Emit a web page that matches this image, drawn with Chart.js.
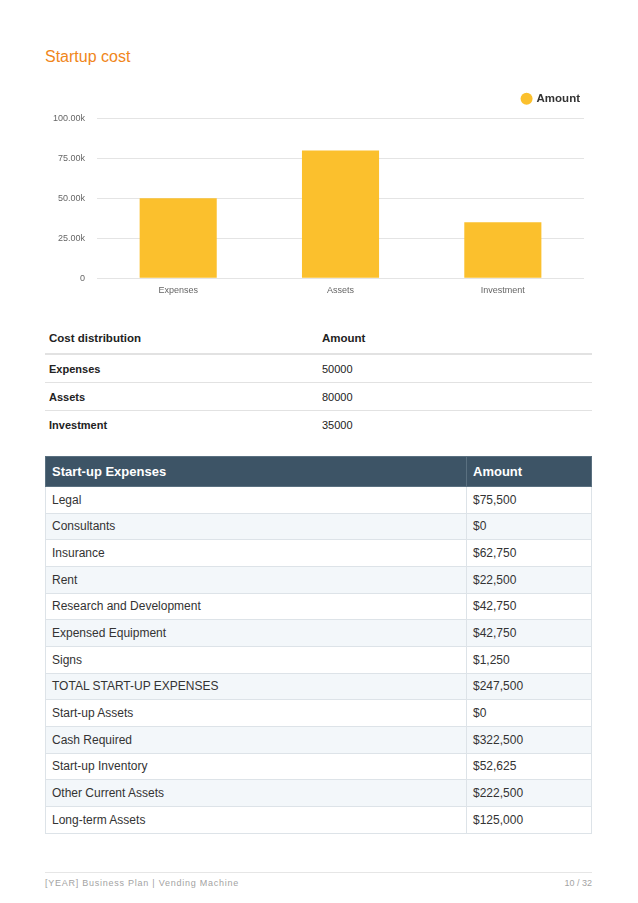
<!DOCTYPE html>
<html>
<head>
<meta charset="utf-8">
<script src="https://cdn.jsdelivr.net/npm/chart.js@4/dist/chart.umd.min.js"></script>
<style>
  body { margin: 0; width: 638px; height: 903px; background: #fff; font-family: "Liberation Sans", Arial, sans-serif; position: relative; overflow: hidden; }
  h1 { position: absolute; left: 45px; top: 48px; margin: 0; font-size: 16px; font-weight: normal; color: #f0861a; }
  #chartBox { position: absolute; left: 41px; top: 89px; width: 543px; height: 214px; }
  table { border-collapse: collapse; position: absolute; left: 45px; width: 547px; }
  #dist td { font-size: 11px; color: #222; padding: 0 4px; height: 27px; border-bottom: 1px solid #e2e2e2; }
  #dist tr:first-child td { font-weight: bold; font-size: 11.5px; border-bottom: 2px solid #e2e2e2; height: 30px; }
  #dist tr:last-child td { border-bottom: none; }
  #dist td.lbl { font-weight: bold; }
  #expenses td { font-size: 12px; color: #333; padding: 0 6px; height: 25.67px; border: 1px solid #dde3e8; }
  #expenses tr.hd td { background: #3d5466; color: #fff; font-weight: bold; font-size: 13px; height: 29px; border-color: #5a7080; }
  #expenses tr:nth-child(odd) td { background: #f3f7fa; }
  #expenses tr.hd td { background: #3d5466; }
  .foot { position: absolute; top: 872px; left: 45px; width: 547px; border-top: 1px solid #e6e6e6; padding-top: 5px; font-size: 9px; font-weight: normal; color: #a3a3a3; letter-spacing: 0.75px; }
  .foot span { float: right; letter-spacing: 0; }
</style>
</head>
<body>
<h1>Startup cost</h1>
<div id="chartBox"><canvas id="costChart"></canvas></div>
<table id="dist" style="top:323px"></table>
<table id="expenses" style="top:456px"></table>
<div class="foot">[YEAR] Business Plan | Vending Machine<span>10 / 32</span></div>

<script>
var categories = ['Expenses', 'Assets', 'Investment'];
var amounts = [50000, 80000, 35000];
var yTicks = [0, 25000, 50000, 75000, 100000];

var expenseItems = ['Legal', 'Consultants', 'Insurance', 'Rent', 'Research and Development',
  'Expensed Equipment', 'Signs', 'TOTAL START-UP EXPENSES', 'Start-up Assets', 'Cash Required',
  'Start-up Inventory', 'Other Current Assets', 'Long-term Assets'];
var expenseValues = ['$75,500', '$0', '$62,750', '$22,500', '$42,750', '$42,750', '$1,250',
  '$247,500', '$0', '$322,500', '$52,625', '$222,500', '$125,000'];

// small table under the chart
var dist = document.getElementById('dist');
var html = '<tr><td style="width:265px">Cost distribution</td><td>Amount</td></tr>';
for (var i = 0; i < categories.length; i++) {
  html += '<tr><td class="lbl">' + categories[i] + '</td><td>' + amounts[i] + '</td></tr>';
}
dist.innerHTML = html;

// start-up expenses table
var exp = document.getElementById('expenses');
html = '<tr class="hd"><td>Start-up Expenses</td><td style="width:112px">Amount</td></tr>';
for (var j = 0; j < expenseItems.length; j++) {
  html += '<tr><td>' + expenseItems[j] + '</td><td>' + expenseValues[j] + '</td></tr>';
}
exp.innerHTML = html;

// extra room under the legend
var legendMargin = {
  id: 'legendMargin',
  beforeInit: function(chart) {
    var fit = chart.legend.fit;
    chart.legend.fit = function() {
      fit.bind(chart.legend)();
      this.height += 4;
    };
  }
};

new Chart(document.getElementById('costChart'), {
  type: 'bar',
  data: {
    labels: categories,
    datasets: [{
      label: 'Amount',
      data: amounts,
      backgroundColor: '#fbc02d',
      barPercentage: 0.475,
      categoryPercentage: 1
    }]
  },
  options: {
    responsive: true,
    maintainAspectRatio: false,
    animation: false,
    layout: { padding: 0 },
    plugins: {
      legend: {
        position: 'top',
        align: 'end',
        labels: {
          usePointStyle: true,
          pointStyle: 'circle',
          boxWidth: 8.5,
          boxHeight: 8.5,
          color: '#333',
          font: { family: 'Liberation Sans', size: 11.5, weight: 'bold' },
          padding: 4
        }
      },
      tooltip: { enabled: false }
    },
    scales: {
      x: {
        grid: { display: false, drawTicks: false },
        border: { display: false },
        ticks: { color: '#666', font: { family: 'Liberation Sans', size: 9 }, padding: 7 }
      },
      y: {
        min: 0,
        max: 100000,
        afterBuildTicks: function(axis) {
          axis.ticks = yTicks.map(function(v) { return { value: v }; });
        },
        grid: { color: '#e4e4e4', drawTicks: false },
        border: { display: false },
        ticks: {
          color: '#666',
          font: { family: 'Liberation Sans', size: 9 },
          padding: 12,
          callback: function(v) { return v === 0 ? '0' : (v / 1000).toFixed(2) + 'k'; }
        }
      }
    }
  },
  plugins: [legendMargin]
});
</script>
</body>
</html>
